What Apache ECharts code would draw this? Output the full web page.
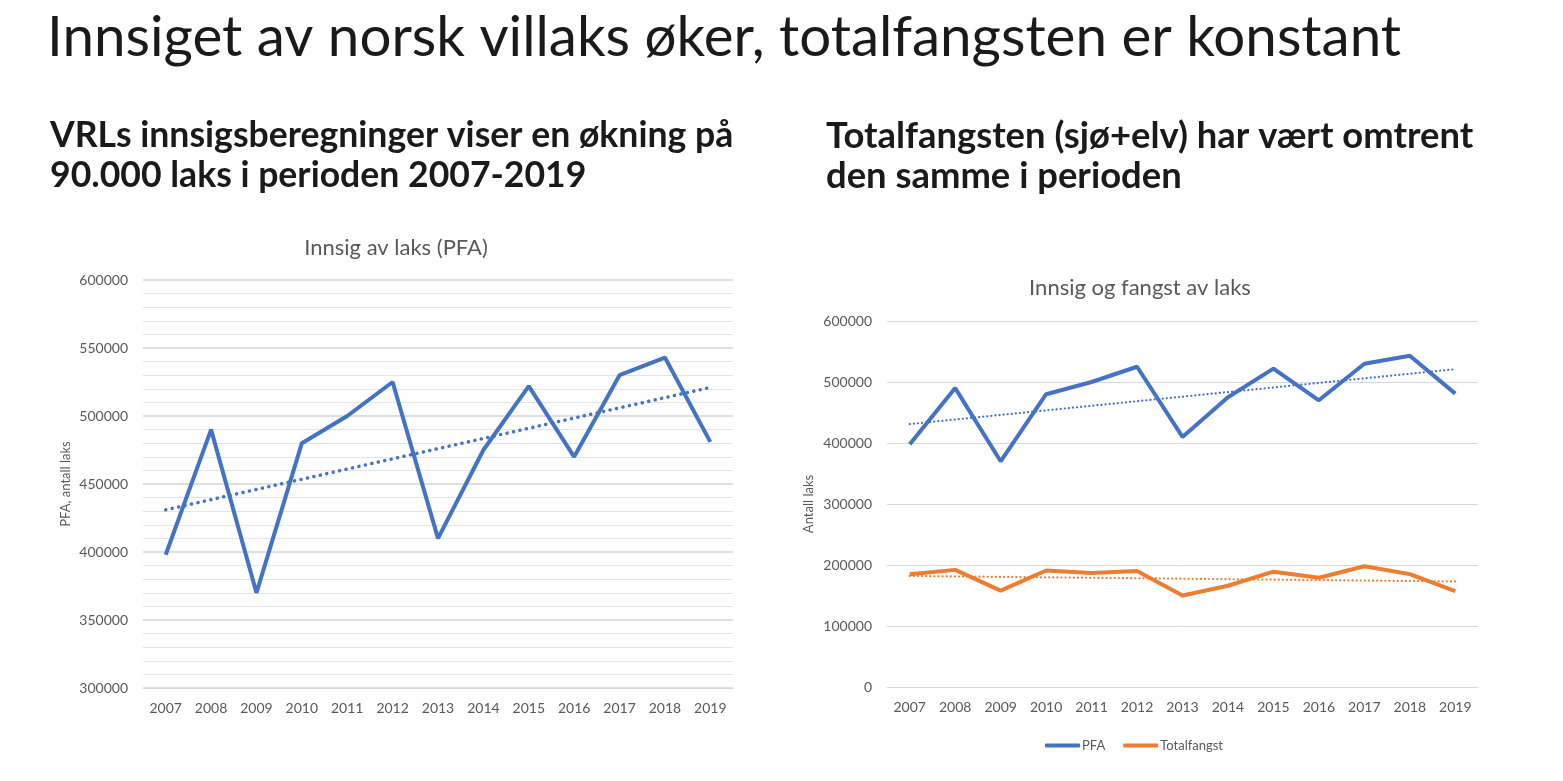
<!DOCTYPE html>
<html>
<head>
<meta charset="utf-8">
<script src="https://cdn.jsdelivr.net/npm/echarts@6/dist/echarts.min.js"></script>
<style>
html,body{margin:0;padding:0;background:#fff;}
#c{width:1563px;height:781px;}
</style>
</head>
<body>
<div id="c"></div>
<script>
const years = ['2007','2008','2009','2010','2011','2012','2013','2014','2015','2016','2017','2018','2019'];
const pfa = [398000, 490000, 370000, 480000, 500000, 525000, 410000, 475000, 522000, 470000, 530000, 543000, 481000];
const totalfangst = [185000, 192000, 158000, 191000, 187000, 190000, 150000, 166000, 189000, 179000, 198000, 185000, 157000];
// trendline endpoints (2007, 2019)
const pfaTrendEnds = [431000, 521000];
const fangstTrendEnds = [182000, 173000];

function endsSeries(ends){
  const arr = years.map(() => null);
  arr[0] = ends[0];
  arr[arr.length-1] = ends[1];
  return arr;
}

const FONT = 'Lato, "Liberation Sans", sans-serif';
const gray = '#595959';
const blue = '#4472C4';
const orange = '#ED7D31';
const plain = v => String(v);

const chart = echarts.init(document.getElementById('c'));
chart.setOption({
  backgroundColor: '#fff',
  animation: false,
  textStyle: {fontFamily: FONT},
  title: [
    {text: 'Innsiget av norsk villaks øker, totalfangsten er konstant', left: 42, top: 4,
     textStyle: {fontFamily: FONT, fontSize: 56.5, fontWeight: 'normal', color: '#1a1a1a'}},
    {text: 'VRLs innsigsberegninger viser en økning på\n90.000 laks i perioden 2007-2019', left: 45, top: 111,
     textStyle: {fontFamily: FONT, fontSize: 35.6, fontWeight: 'bold', color: '#1a1a1a', lineHeight: 40}},
    {text: 'Totalfangsten (sjø+elv) har vært omtrent\nden samme i perioden', left: 821, top: 111,
     textStyle: {fontFamily: FONT, fontSize: 36.4, fontWeight: 'bold', color: '#1a1a1a', lineHeight: 40}},
    {text: 'Innsig av laks (PFA)', left: 391, top: 232, textAlign: 'center',
     textStyle: {fontFamily: FONT, fontSize: 22, fontWeight: 'normal', color: gray}},
    {text: 'Innsig og fangst av laks', left: 1135, top: 272, textAlign: 'center',
     textStyle: {fontFamily: FONT, fontSize: 22, fontWeight: 'normal', color: gray}}
  ],
  legend: {
    left: 1040, top: 734,
    data: [{name: 'PFA', itemStyle:{color: blue}}, {name: 'Totalfangst', itemStyle:{color: orange}}],
    icon: 'roundRect', itemWidth: 35, itemHeight: 4, itemGap: 18,
    textStyle: {fontFamily: FONT, fontSize: 13, color: gray, padding: [0,0,0,-3]}
  },
  grid: [
    {left: 143, top: 280, width: 590, height: 408},
    {left: 887, top: 321, width: 591, height: 366}
  ],
  xAxis: [
    {type: 'category', gridIndex: 0, data: years, boundaryGap: true,
     axisLine: {show: true, lineStyle: {color: '#d9d9d9'}}, axisTick: {show: false},
     axisLabel: {color: gray, fontSize: 14, margin: 13, fontFamily: FONT}},
    {type: 'category', gridIndex: 1, data: years, boundaryGap: true,
     axisLine: {show: true, lineStyle: {color: '#d9d9d9'}}, axisTick: {show: false},
     axisLabel: {color: gray, fontSize: 14, margin: 13, fontFamily: FONT}}
  ],
  yAxis: [
    {type: 'value', gridIndex: 0, min: 300000, max: 600000, interval: 50000,
     name: 'PFA, antall laks', nameLocation: 'middle', nameGap: 71, nameRotate: 90,
     nameTextStyle: {color: gray, fontSize: 13, fontFamily: FONT},
     axisLine: {show: false}, axisTick: {show: false},
     axisLabel: {color: gray, fontSize: 14, margin: 15, fontFamily: FONT, formatter: plain},
     splitLine: {lineStyle: {color: '#d4d4d4', width: 1.5}},
     minorTick: {show: false, splitNumber: 5},
     minorSplitLine: {show: true, lineStyle: {color: '#e4e4e4', width: 1}}},
    {type: 'value', gridIndex: 1, min: 0, max: 600000, interval: 100000,
     name: 'Antall laks', nameLocation: 'middle', nameGap: 72, nameRotate: 90,
     nameTextStyle: {color: gray, fontSize: 13, fontFamily: FONT},
     axisLine: {show: false}, axisTick: {show: false},
     axisLabel: {color: gray, fontSize: 14, margin: 15, fontFamily: FONT, formatter: plain},
     splitLine: {lineStyle: {color: '#d9d9d9', width: 1}}}
  ],
  series: [
    {name: 'PFA (venstre)', type: 'line', xAxisIndex: 0, yAxisIndex: 0, data: pfa,
     showSymbol: false, lineStyle: {color: blue, width: 4}, itemStyle: {color: blue}},
    {name: 'PFA trend (venstre)', type: 'line', xAxisIndex: 0, yAxisIndex: 0, data: endsSeries(pfaTrendEnds),
     connectNulls: true, showSymbol: false, lineStyle: {color: blue, width: 3.5, type: [0.1, 6.5], cap: 'round'}},
    {name: 'PFA', type: 'line', xAxisIndex: 1, yAxisIndex: 1, data: pfa,
     showSymbol: false, lineStyle: {color: blue, width: 4}, itemStyle: {color: blue}},
    {name: 'PFA trend', type: 'line', xAxisIndex: 1, yAxisIndex: 1, data: endsSeries(pfaTrendEnds),
     connectNulls: true, showSymbol: false, lineStyle: {color: blue, width: 2.2, type: [0.1, 4], cap: 'round'}},
    {name: 'Totalfangst', type: 'line', xAxisIndex: 1, yAxisIndex: 1, data: totalfangst,
     showSymbol: false, lineStyle: {color: orange, width: 4}, itemStyle: {color: orange}},
    {name: 'Totalfangst trend', type: 'line', xAxisIndex: 1, yAxisIndex: 1, data: endsSeries(fangstTrendEnds),
     connectNulls: true, showSymbol: false, lineStyle: {color: orange, width: 2.2, type: [0.1, 4], cap: 'round'}}
  ]
});
</script>
</body>
</html>
